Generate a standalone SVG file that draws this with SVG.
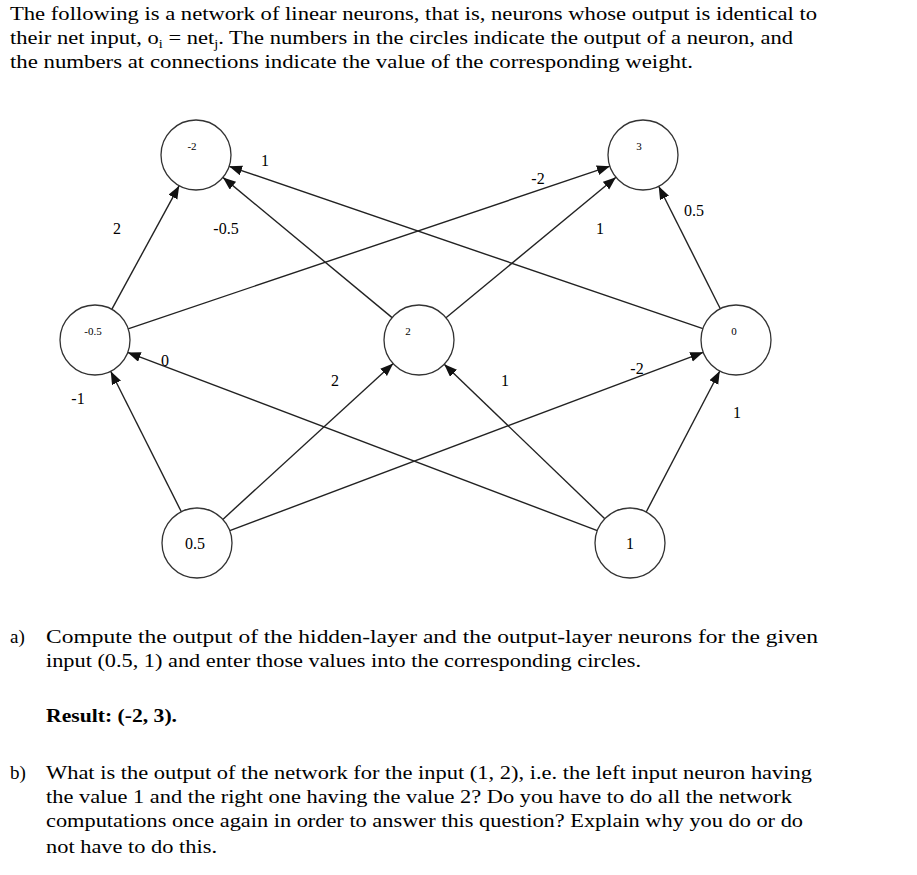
<svg xmlns="http://www.w3.org/2000/svg" width="917" height="875" viewBox="0 0 917 875">
<style>
text{font-family:"Liberation Serif","Times New Roman",serif;fill:#000}
.p{font-size:19px}
.w{font-size:16px;text-anchor:middle}
.n{font-size:11px;text-anchor:middle}
.ni{font-size:16px;text-anchor:middle}
.c{fill:#fff;stroke:#333;stroke-width:1.3}
.e{stroke:#222;stroke-width:1.4;fill:none;marker-end:url(#ah)}
</style>
<defs>
<marker id="ah" markerUnits="userSpaceOnUse" markerWidth="14" markerHeight="12" refX="13" refY="5" orient="auto"><path d="M0,0 L13,5 L0,10 Z" fill="#111"/></marker>
</defs>
<rect width="917" height="875" fill="#fff"/>
<g id="intro">
<text class="p" x="10" y="20" textLength="807" lengthAdjust="spacingAndGlyphs">The following is a network of linear neurons, that is, neurons whose output is identical to</text>
<text class="p" x="10" y="44" textLength="783" lengthAdjust="spacingAndGlyphs">their net input, o<tspan font-size="12" dy="4">i</tspan><tspan dy="-4"> = net</tspan><tspan font-size="12" dy="4">j</tspan><tspan dy="-4">. The numbers in the circles indicate the output of a neuron, and</tspan></text>
<text class="p" x="10" y="68" textLength="683" lengthAdjust="spacingAndGlyphs">the numbers at connections indicate the value of the corresponding weight.</text>
</g>
<g id="connectors">
<line class="e" x1="111.8" y1="309.3" x2="179.2" y2="185.7"/>
<line class="e" x1="392.1" y1="317.6" x2="222.9" y2="177.4"/>
<line class="e" x1="702.9" y1="328.7" x2="229.1" y2="166.3"/>
<line class="e" x1="128.1" y1="328.8" x2="609.9" y2="166.2"/>
<line class="e" x1="446" y1="317.7" x2="616" y2="177.3"/>
<line class="e" x1="720.3" y1="308.7" x2="658.7" y2="186.3"/>
<line class="e" x1="181.3" y1="511.7" x2="110.7" y2="371.3"/>
<line class="e" x1="597.3" y1="530.6" x2="127.7" y2="352.4"/>
<line class="e" x1="222.8" y1="519.4" x2="393.2" y2="363.6"/>
<line class="e" x1="604.8" y1="518.7" x2="444.2" y2="364.3"/>
<line class="e" x1="229.8" y1="530.7" x2="703.2" y2="352.3"/>
<line class="e" x1="646.2" y1="512" x2="719.8" y2="371"/>
<text class="w" x="117" y="234">2</text>
<text class="w" x="226" y="234">-0.5</text>
<text class="w" x="265" y="166">1</text>
<text class="w" x="538" y="184">-2</text>
<text class="w" x="600" y="234">1</text>
<text class="w" x="694" y="216">0.5</text>
<text class="w" x="78" y="404">-1</text>
<text class="w" x="165" y="366">0</text>
<text class="w" x="335" y="386">2</text>
<text class="w" x="505" y="386">1</text>
<text class="w" x="637" y="374">-2</text>
<text class="w" x="737" y="418">1</text>
</g>
<g id="out1"><circle class="c" cx="196" cy="155" r="35"/><text class="n" x="192" y="150">-2</text></g>
<g id="out2"><circle class="c" cx="643" cy="155" r="35"/><text class="n" x="639" y="150">3</text></g>
<g id="hid1"><circle class="c" cx="95" cy="340" r="35"/><text class="n" x="93" y="335">-0.5</text></g>
<g id="hid2"><circle class="c" cx="419" cy="340" r="35"/><text class="n" x="408" y="335">2</text></g>
<g id="hid3"><circle class="c" cx="736" cy="340" r="35"/><text class="n" x="734" y="335">0</text></g>
<g id="in1"><circle class="c" cx="197" cy="543" r="35"/><text class="ni" x="195" y="549">0.5</text></g>
<g id="in2"><circle class="c" cx="630" cy="543" r="35"/><text class="ni" x="630" y="549">1</text></g>
<g id="questions">
<text class="p" x="10" y="643">a)</text>
<text class="p" x="46" y="643" textLength="772" lengthAdjust="spacingAndGlyphs">Compute the output of the hidden-layer and the output-layer neurons for the given</text>
<text class="p" x="46" y="667" textLength="595" lengthAdjust="spacingAndGlyphs">input (0.5, 1) and enter those values into the corresponding circles.</text>
<text class="p" x="46" y="722" font-weight="bold" textLength="131" lengthAdjust="spacingAndGlyphs">Result: (-2, 3).</text>
<text class="p" x="10" y="779">b)</text>
<text class="p" x="46" y="779" textLength="766" lengthAdjust="spacingAndGlyphs">What is the output of the network for the input (1, 2), i.e. the left input neuron having</text>
<text class="p" x="46" y="803" textLength="746" lengthAdjust="spacingAndGlyphs">the value 1 and the right one having the value 2? Do you have to do all the network</text>
<text class="p" x="46" y="827" textLength="757" lengthAdjust="spacingAndGlyphs">computations once again in order to answer this question? Explain why you do or do</text>
<text class="p" x="46" y="853" textLength="171" lengthAdjust="spacingAndGlyphs">not have to do this.</text>
</g>
</svg>
